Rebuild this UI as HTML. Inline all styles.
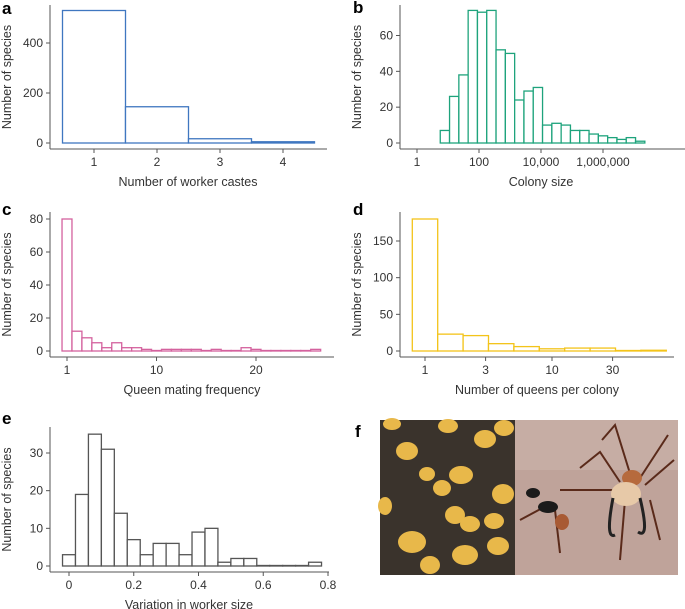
<!DOCTYPE html>
<html><head><meta charset="utf-8"><style>
body{margin:0;background:#fff;}
svg{display:block;font-family:"Liberation Sans",sans-serif;}
.t{font-size:12px;fill:#333;}
.ttl{font-size:12.5px;fill:#333;}
.pl{font-size:17px;font-weight:bold;fill:#000;}
</style></head><body>
<svg id="fig" width="685" height="609" viewBox="0 0 685 609">
<g id="photos">
<rect x="380" y="420" width="135" height="155" fill="#3a332c"/>
<g fill="#e8b84a">
<ellipse cx="407" cy="451" rx="11" ry="9"/><ellipse cx="427" cy="474" rx="8" ry="7"/><ellipse cx="442" cy="488" rx="9" ry="8"/>
<ellipse cx="461" cy="475" rx="12" ry="9"/><ellipse cx="485" cy="439" rx="11" ry="9"/><ellipse cx="504" cy="428" rx="10" ry="8"/>
<ellipse cx="503" cy="494" rx="11" ry="10"/><ellipse cx="494" cy="521" rx="10" ry="8"/><ellipse cx="455" cy="515" rx="10" ry="9"/>
<ellipse cx="470" cy="524" rx="10" ry="8"/><ellipse cx="412" cy="542" rx="14" ry="11"/><ellipse cx="465" cy="555" rx="13" ry="10"/>
<ellipse cx="498" cy="546" rx="11" ry="9"/><ellipse cx="430" cy="565" rx="10" ry="9"/><ellipse cx="385" cy="506" rx="7" ry="9"/>
<ellipse cx="448" cy="426" rx="10" ry="7"/><ellipse cx="392" cy="424" rx="9" ry="6"/>
</g>
<rect x="515" y="420" width="163" height="155" fill="#bfa39a"/>
<rect x="515" y="420" width="163" height="50" fill="#c6ada4"/>
<g stroke="#5a2a1a" stroke-width="2" fill="none">
<path d="M620 482 L600 452 L580 468"/><path d="M632 480 L615 425 L602 440"/><path d="M640 478 L668 435"/><path d="M645 485 L674 460"/>
<path d="M615 490 L560 490"/><path d="M650 500 L660 540"/><path d="M625 500 L620 560"/><path d="M555 510 L560 553"/><path d="M548 505 L520 520"/>
</g>
<ellipse cx="632" cy="478" rx="10" ry="8" fill="#b66a3d"/>
<ellipse cx="626" cy="494" rx="15" ry="12" fill="#e7c9a8"/>
<path d="M613 498 Q605 540 615 535 M640 498 Q650 540 638 532" stroke="#222" stroke-width="3" fill="none"/>
<ellipse cx="533" cy="493" rx="7" ry="5" fill="#1b1b1b"/><ellipse cx="548" cy="507" rx="10" ry="6" fill="#1b1b1b"/>
<ellipse cx="562" cy="522" rx="7" ry="8" fill="#a85a34"/>
</g>
</svg>
<script>
// Panel a
const aCats=[1,2,3,4];
const aVals=[530,145,17,5];
const aYTicks=[0,200,400];
const aXTicks=[1,2,3,4];
// Panel b (log10 colony size bins, left edges)
const bEdges=[0.75,1.05,1.35,1.65,1.95,2.25,2.55,2.85,3.15,3.45,3.75,4.05,4.35,4.65,4.95,5.25,5.55,5.85,6.15,6.45,6.75,7.05];
const bVals=[7,26,38,74,73,74,52,50,24,29,31,10,11,10,7,7,5,4,3,2,3,1];
const bYTicks=[0,20,40,60];
const bXTicks=[0,2,4,6];
const bXLabels=["1","100","10,000","1,000,000"];
// Panel c
const cCats=[1,2,3,4,5,6,7,8,9,10,11,12,13,14,15,16,17,18,19,20,21,22,23,24,25,26];
const cVals=[80,12,8,5,2,5,2,2,1,0,1,1,1,1,0,1,0,0,2,1,0,0,0,0,0,1];
const cYTicks=[0,20,40,60,80];
const cXTicks=[1,10,20];
// Panel d (log10 queens bins, left edges)
const dEdges=[-0.1,0.1,0.3,0.5,0.7,0.9,1.1,1.3,1.5,1.7];
const dVals=[180,23,21,10,6,3,4,4,0,1];
const dYTicks=[0,50,100,150];
const dXTicks=[1,3,10,30];
// Panel e
const eEdges=[-0.02,0.02,0.06,0.1,0.14,0.18,0.22,0.26,0.3,0.34,0.38,0.42,0.46,0.5,0.54,0.58,0.62,0.66,0.7,0.74];
const eVals=[3,19,35,31,14,7,3,6,6,3,9,10,1,2,2,0,0,0,0,1];
const eYTicks=[0,10,20,30];
const eXTicks=[0,0.2,0.4,0.6,0.8];

const NS="http://www.w3.org/2000/svg";
const svg=document.getElementById('fig');
function mk(tag,attrs,parent){const e=document.createElementNS(NS,tag);for(const k in attrs)e.setAttribute(k,attrs[k]);(parent||svg).appendChild(e);return e;}
function lin(d0,d1,r0,r1){return v=>r0+(v-d0)/(d1-d0)*(r1-r0);}

function panel(o){
  const g=mk('g',{});
  
  
  const lab=mk('text',{x:o.lx,y:o.ly,class:'pl'},g);lab.textContent=o.id;
  
  
  o.bins.forEach((b,i)=>{
    const x0=o.xs(b[0]),x1=o.xs(b[1]),y=o.ys(b[2]),y0=o.ys(0);
    const r=mk('rect',{x:x0,y:Math.min(y,y0-0.5),width:x1-x0,height:Math.max(y0-y,0.5),fill:'#fff',stroke:o.color,'stroke-width':1.3},g);
    
    
  });
  const ya=mk('line',{x1:o.ax,y1:o.top,x2:o.ax,y2:o.axY,stroke:'#555','stroke-width':1},g);
  
  
  const xa=mk('line',{x1:o.ax,y1:o.axY,x2:o.axR,y2:o.axY,stroke:'#555','stroke-width':1},g);
  
  
  o.yt.forEach(v=>{const y=o.ys(v);mk('line',{x1:o.ax-4,y1:y,x2:o.ax,y2:y,stroke:'#555'},g);
    const t=mk('text',{x:o.ax-7,y:y+4,class:'t','text-anchor':'end'},g);t.textContent=v;
    
    });
  o.xt.forEach((v,i)=>{const x=o.xs(v);mk('line',{x1:x,y1:o.axY,x2:x,y2:o.axY+4,stroke:'#555'},g);
    const t=mk('text',{x:x,y:o.axY+17,class:'t','text-anchor':'middle'},g);t.textContent=o.xl?o.xl[i]:v;
    
    });
  const xt=mk('text',{x:o.xtx,y:o.axY+37,class:'ttl','text-anchor':'middle'},g);xt.textContent=o.xtitle;
  
  
  const yc=(o.top+o.axY)/2;
  const yt=mk('text',{x:0,y:0,class:'ttl','text-anchor':'middle',transform:`translate(${o.ax-39},${yc}) rotate(-90)`},g);yt.textContent='Number of species';
  
  
}

panel({id:'a',lx:2,ly:14,color:'#3f77c0',ax:50,top:5,axY:149,axR:327,
  xs:lin(1,4,94,283),ys:lin(0,400,143,43),
  bins:aCats.map((c,i)=>[c-0.5,c+0.5,aVals[i]]),yt:aYTicks,xt:aXTicks,xtitle:'Number of worker castes',xtx:188});
panel({id:'b',lx:353,ly:13,color:'#1ea37c',ax:400,top:5,axY:149,axR:685,
  xs:lin(0,6,417,603),ys:lin(0,60,143,35.5),
  bins:bEdges.map((e,i)=>[e,e+0.3,bVals[i]]),yt:bYTicks,xt:bXTicks,xl:bXLabels,xtitle:'Colony size',xtx:541});
panel({id:'c',lx:2,ly:215,color:'#d4629e',ax:50,top:212,axY:357,axR:334,
  xs:lin(1,20,67,256),ys:lin(0,80,351,219),
  bins:cCats.map((c,i)=>[c-0.5,c+0.5,cVals[i]]),yt:cYTicks,xt:cXTicks,xtitle:'Queen mating frequency',xtx:192});
panel({id:'d',lx:353,ly:215,color:'#f3c41a',ax:400,top:212,axY:357,axR:674,
  xs:v=>425+Math.log10(v)*127,ys:lin(0,150,351,241),
  bins:dEdges.map((e,i)=>[Math.pow(10,e),Math.pow(10,e+0.2),dVals[i]]),yt:dYTicks,xt:dXTicks,xtitle:'Number of queens per colony',xtx:537});
panel({id:'e',lx:2,ly:424,color:'#555555',ax:50,top:427,axY:572,axR:329,
  xs:lin(0,0.8,69,328),ys:lin(0,30,566,453),
  bins:eEdges.map((e,i)=>[e,e+0.04,eVals[i]]),yt:eYTicks,xt:eXTicks,xtitle:'Variation in worker size',xtx:189});
const f=mk('text',{x:355,y:437,class:'pl'});f.textContent='f';


</script>
</body></html>
